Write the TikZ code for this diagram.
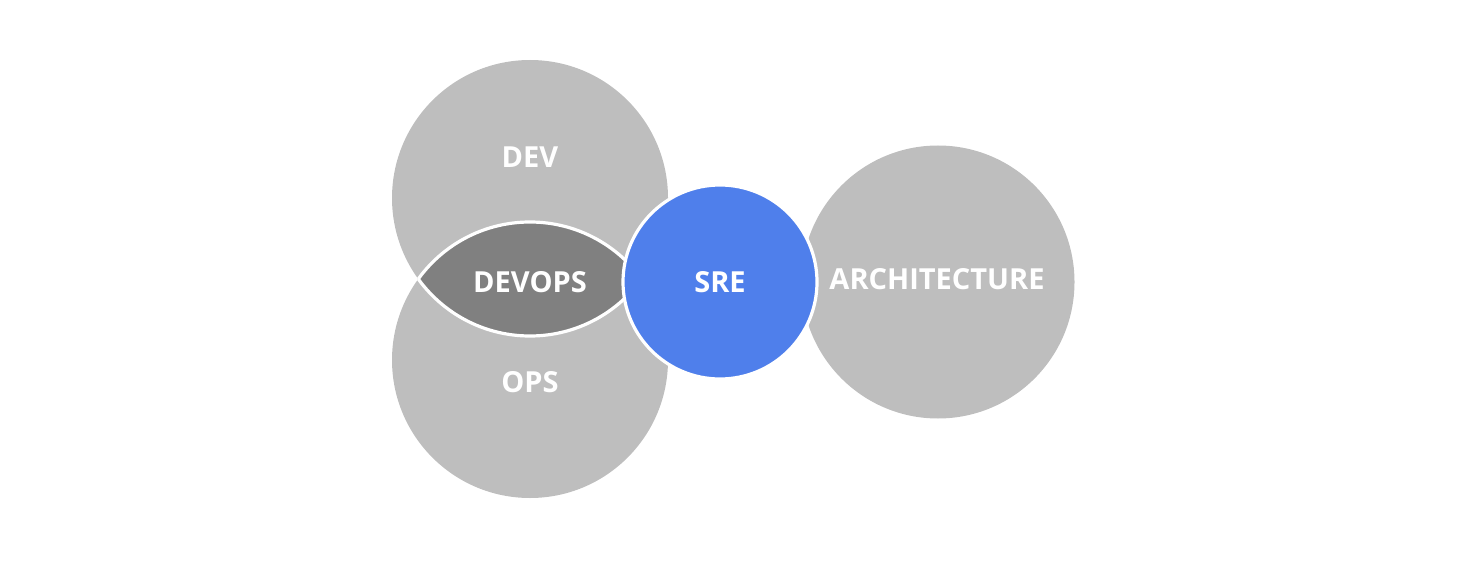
\documentclass[tikz,border=0pt]{standalone}
\usepackage{fontspec}
\setmainfont{Open Sans}
\usetikzlibrary{positioning}

\definecolor{circgray}{HTML}{BEBEBE}
\definecolor{lensgray}{HTML}{808080}
\definecolor{sreblue}{HTML}{4F7FEB}

\begin{document}
\begin{tikzpicture}[x=0.5pt,y=-0.5pt]
\tikzstyle{area} = [circle, inner sep=0pt, fill=circgray, minimum size=138pt]
\tikzstyle{word} = [text=white, font=\bfseries\fontsize{14.5}{16}\selectfont]
\useasboundingbox (0,0) rectangle (1460,561);
% grey areas
\node[area] (dev) at (530,198) {};
\node[area] (ops) at (530,360) {};
\node[area, minimum size=136.5pt] (arch) at (938,282) {};
% overlap of dev and ops
\begin{scope}
    \clip (dev.center) circle (138);
    \fill[lensgray] (ops.center) circle (138);
\end{scope}
\begin{scope}
    \clip (dev.center) circle (138);
    \draw[white, line width=1.6pt] (ops.center) circle (138);
\end{scope}
\begin{scope}
    \clip (ops.center) circle (138);
    \draw[white, line width=1.6pt] (dev.center) circle (138);
\end{scope}
\node[circle, inner sep=0pt, minimum size=97pt, fill=sreblue, draw=white, line width=1.6pt] (sre) at (720,282) {};
% labels
\node[word] (devtext) at (530,157) {DEV};
\node[word] (opstext) at (530,382) {OPS};
\node[word] (devopstext) at (530,282) {DEVOPS};
\node[word] (sretext) at (sre.center) {SRE};
\node[word] (archtext) at (937,279) {ARCHITECTURE};
\end{tikzpicture}
\end{document}
